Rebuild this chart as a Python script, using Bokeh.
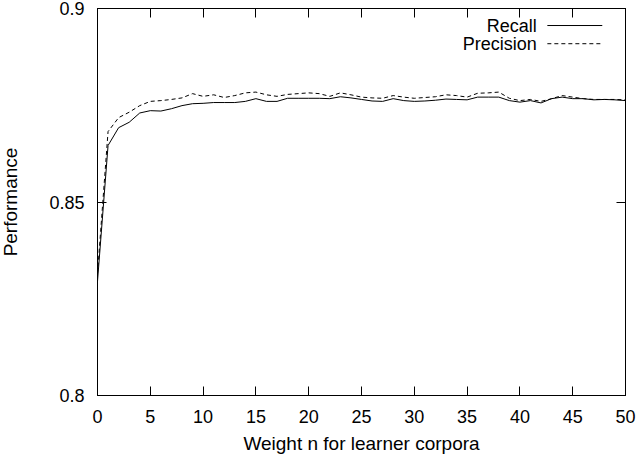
from bokeh.plotting import figure
from bokeh.models import LinearAxis, FixedTicker, Range1d, Label, Arrow
from bokeh.embed import file_html
from bokeh.resources import INLINE

# ---- data ----
weights = list(range(0, 51))
recall = [0.8295, 0.8646, 0.8692, 0.8706, 0.8730, 0.8736, 0.8735, 0.8741, 0.8749, 0.8754,
          0.8755, 0.8757, 0.8757, 0.8757, 0.8760, 0.8767, 0.8760, 0.8760, 0.8768, 0.8768,
          0.8768, 0.8768, 0.8767, 0.8772, 0.8769, 0.8765, 0.8761, 0.8760, 0.8767, 0.8762,
          0.8760, 0.8761, 0.8763, 0.8766, 0.8765, 0.8764, 0.8771, 0.8771, 0.8771, 0.8762,
          0.8758, 0.8762, 0.8756, 0.8767, 0.8771, 0.8767, 0.8767, 0.8764, 0.8765, 0.8764,
          0.8762]
precision = [0.8315, 0.8682, 0.8718, 0.8732, 0.8749, 0.8760, 0.8762, 0.8765, 0.8769, 0.8780,
             0.8773, 0.8777, 0.8770, 0.8775, 0.8782, 0.8784, 0.8777, 0.8773, 0.8778, 0.8780,
             0.8782, 0.8780, 0.8773, 0.8782, 0.8777, 0.8771, 0.8769, 0.8768, 0.8775, 0.8771,
             0.8768, 0.8770, 0.8772, 0.8777, 0.8775, 0.8771, 0.8781, 0.8782, 0.8784, 0.8768,
             0.8762, 0.8765, 0.8760, 0.8767, 0.8775, 0.8771, 0.8767, 0.8765, 0.8765, 0.8765,
             0.8764]
x_ticks = [0, 5, 10, 15, 20, 25, 30, 35, 40, 45, 50]
y_ticks = [0.8, 0.85, 0.9]
y_tick_labels = ["0.8", "0.85", "0.9"]
series_names = ["Recall", "Precision"]
x_title = "Weight n for learner corpora"
y_title = "Performance"

FONT = "Liberation Sans"
FS = "18px"
FS_TITLE = "19px"

p = figure(frame_width=528, frame_height=387,
           min_border_left=100, min_border_right=13, min_border_top=8, min_border_bottom=59,
           x_range=Range1d(0, 50), y_range=Range1d(0.8, 0.9),
           x_axis_location=None, y_axis_location=None,
           output_backend="svg", toolbar_location=None)
p.styles = {"position": "absolute", "top": "0px", "left": "-3px"}
p.grid.visible = False
p.outline_line_color = "black"
p.outline_line_width = 1
p.background_fill_color = "white"
p.border_fill_color = "white"


def style_axis(ax, labels=True):
    ax.axis_line_color = "black"
    ax.major_tick_line_color = "black"
    ax.major_tick_in = 9
    ax.major_tick_out = 0
    ax.minor_tick_line_color = None
    ax.major_label_text_font = FONT
    ax.major_label_text_font_size = FS if labels else "1px"
    ax.major_label_text_color = "black"
    ax.axis_label_text_font = FONT
    ax.axis_label_text_font_size = FS_TITLE
    ax.axis_label_text_font_style = "normal"
    ax.axis_label_text_color = "black"


xb = LinearAxis(ticker=FixedTicker(ticks=x_ticks), axis_label=x_title)
style_axis(xb)
xb.major_label_standoff = 14
xb.axis_label_standoff = 7
p.add_layout(xb, "below")

yl = LinearAxis(ticker=FixedTicker(ticks=y_ticks), axis_label=y_title)
style_axis(yl)
yl.major_label_overrides = {t: s for t, s in zip(y_ticks, y_tick_labels)}
yl.major_label_standoff = 13
yl.axis_label_standoff = 25
p.add_layout(yl, "left")

xt = LinearAxis(ticker=FixedTicker(ticks=x_ticks))
style_axis(xt, labels=False)
xt.major_label_overrides = {t: "" for t in x_ticks}
xt.major_label_standoff = 0
p.add_layout(xt, "above")

yr = LinearAxis(ticker=FixedTicker(ticks=y_ticks))
style_axis(yr, labels=False)
yr.major_label_overrides = {t: "" for t in y_ticks}
yr.major_label_standoff = 0
p.add_layout(yr, "right")

p.line(weights, recall, line_color="black", line_width=1)
p.line(weights, precision, line_color="black", line_width=1, line_dash="4 3")

# gnuplot-style key (text right-aligned, sample line to its right)
key_rows = [(series_names[0], 0.8956, "solid"), (series_names[1], 0.8909, "4 3")]
for name, ky, dash in key_rows:
    p.add_layout(Label(x=41.6, y=ky, text=name, text_align="right", text_baseline="middle",
                       text_font=FONT, text_font_size=FS, text_color="black"))
    p.add_layout(Arrow(end=None, x_start=42.6, y_start=ky, x_end=47.8, y_end=ky,
                       line_color="black", line_width=1, line_dash=dash))

open("out.html", "w").write(file_html(p, INLINE))
